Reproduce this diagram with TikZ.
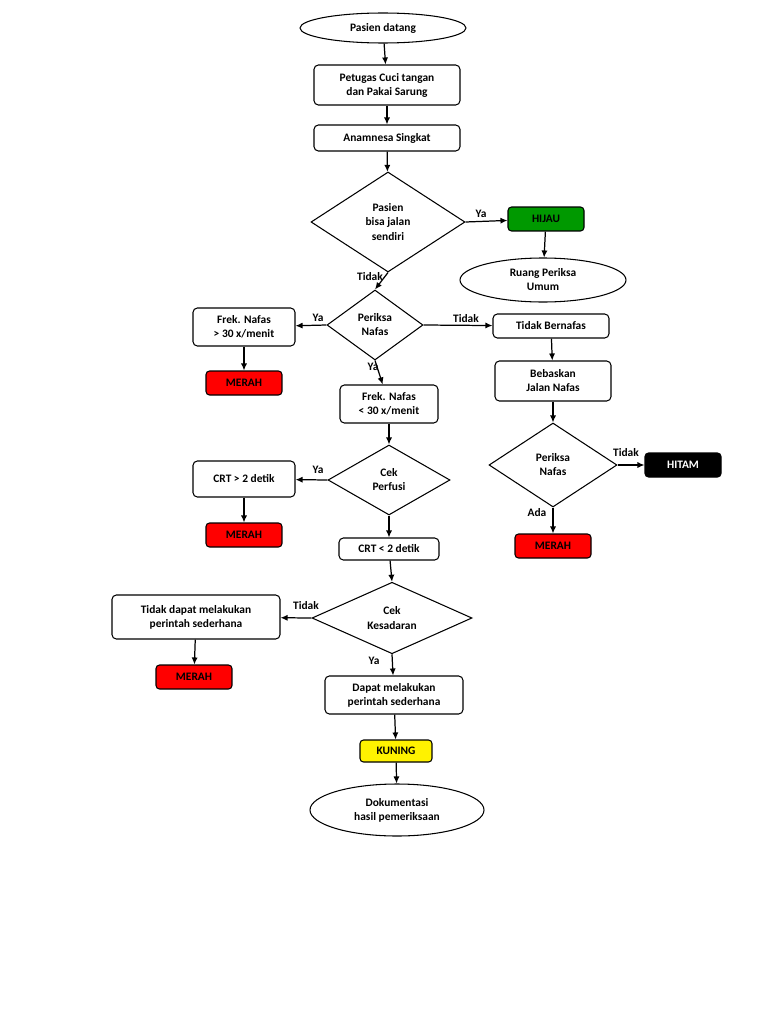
\documentclass[tikz,border=0pt]{standalone}
\usepackage{fontspec}
\setmainfont{Carlito}
\usetikzlibrary{shapes.geometric,arrows.meta}
\begin{document}
\begin{tikzpicture}[x=0.02cm,y=-0.02cm,
  font=\fontsize{6.5}{8}\selectfont\bfseries,
  every node/.style={align=center},
  sz/.style 2 args={minimum width=#1*0.02cm,minimum height=#2*0.02cm},
  box/.style={draw,rounded corners=2.5pt,line width=0.6pt,inner sep=0pt},
  oval/.style={draw,ellipse,line width=0.6pt,inner sep=0pt},
  dec/.style={draw,diamond,line width=0.6pt,inner sep=0pt},
  tag/.style={draw,rounded corners=2pt,line width=0.6pt,minimum width=1.52cm,minimum height=0.48cm,inner sep=0pt},
  arr/.style={-{Latex[length=4pt,width=3.5pt]},line width=0.7pt},
  lbl/.style={font=\fontsize{6.5}{8}\selectfont\bfseries}]
\useasboundingbox (0,0) rectangle (768,1024);
\node[oval,sz={166}{30}] (start) at (383,28) {Pasien datang};
\node[box,sz={146}{40}] (cuci) at (387,85) {Petugas Cuci tangan\\dan Pakai Sarung};
\node[box,sz={146}{26}] (anam) at (387,138) {Anamnesa Singkat};
\node[dec,sz={154}{100}] (jalan) at (388,222) {Pasien\\bisa jalan\\sendiri};
\node[tag,fill=green!60!black] (hijau) at (546,219) {HIJAU};
\node[oval,sz={166}{44}] (umum) at (543,280) {Ruang Periksa\\Umum};
\node[dec,sz={96}{70}] (nafas) at (375,325) {Periksa\\Nafas};
\node[box,sz={102}{38}] (frek1) at (244,327) {Frek. Nafas\\> 30 x/menit};
\node[tag,fill=red] (merah1) at (244,383) {MERAH};
\node[box,sz={116}{24}] (tidakb) at (551,326) {Tidak Bernafas};
\node[box,sz={116}{40}] (bebas) at (553,381) {Bebaskan\\Jalan Nafas};
\node[dec,sz={128}{84}] (nafas2) at (553,465) {Periksa\\Nafas};
\node[tag,fill=black,text=white] (hitam) at (683,465) {HITAM};
\node[tag,fill=red] (merah4) at (553,546) {MERAH};
\node[box,sz={98}{38}] (frek2) at (389,404) {Frek. Nafas\\< 30 x/menit};
\node[dec,sz={122}{70}] (perf) at (389,480) {Cek\\Perfusi};
\node[box,sz={102}{36}] (crt1) at (244,479) {CRT > 2 detik};
\node[tag,fill=red] (merah2) at (244,535) {MERAH};
\node[box,sz={100}{22}] (crt2) at (389,549) {CRT < 2 detik};
\node[dec,sz={160}{68}] (sadar) at (392,618) {Cek\\Kesadaran};
\node[box,sz={168}{44}] (tdk) at (196,617) {Tidak dapat melakukan\\perintah sederhana};
\node[tag,fill=red] (merah3) at (194,677) {MERAH};
\node[box,sz={138}{38}] (dapat) at (394,695) {Dapat melakukan\\perintah sederhana};
\node[tag,fill=yellow,minimum width=1.44cm,minimum height=0.44cm] (kuning) at (396,751) {KUNING};
\node[oval,sz={174}{52}] (dok) at (397,810) {Dokumentasi\\hasil pemeriksaan};

\draw[arr] (start) -- (cuci);
\draw[arr] (cuci) -- (anam);
\draw[arr] (anam) -- (jalan);
\draw[arr] (jalan.east) -- (hijau);
\draw[arr] (hijau) -- (umum);
\draw[arr] (jalan.south) -- (nafas.north);
\draw[arr] (nafas.west) -- (frek1);
\draw[arr] (frek1) -- (merah1);
\draw[arr] (nafas.east) -- (tidakb);
\draw[arr] (tidakb) -- (bebas);
\draw[arr] (bebas) -- (nafas2.north);
\draw[arr] (nafas2.east) -- (hitam);
\draw[arr] (nafas2.south) -- (merah4);
\draw[arr] (nafas.south) -- (frek2);
\draw[arr] (frek2) -- (perf.north);
\draw[arr] (perf.west) -- (crt1);
\draw[arr] (crt1) -- (merah2);
\draw[arr] (perf.south) -- (crt2);
\draw[arr] (crt2) -- (sadar.north);
\draw[arr] (sadar.west) -- (tdk);
\draw[arr] (tdk) -- (merah3);
\draw[arr] (sadar.south) -- (dapat);
\draw[arr] (dapat) -- (kuning);
\draw[arr] (kuning) -- (dok);

\node[lbl] at (481,214) {Ya};
\node[lbl] at (370,277) {Tidak};
\node[lbl] at (318,318) {Ya};
\node[lbl] at (466,319) {Tidak};
\node[lbl] at (373,367) {Ya};
\node[lbl] at (318,470) {Ya};
\node[lbl] at (626,453) {Tidak};
\node[lbl] at (537,513) {Ada};
\node[lbl] at (306,606) {Tidak};
\node[lbl] at (374,661) {Ya};
\end{tikzpicture}
\end{document}
